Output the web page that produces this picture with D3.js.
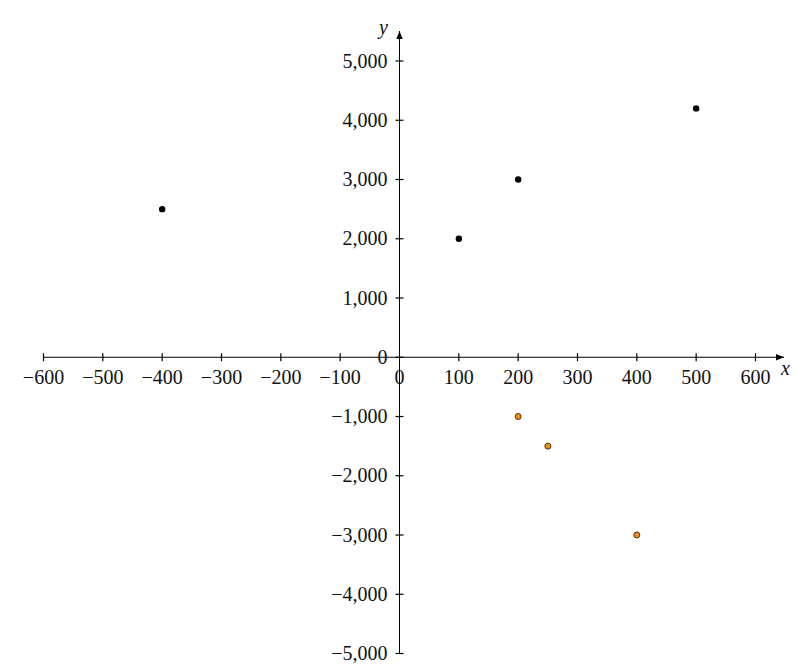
<!DOCTYPE html>
<html>
<head>
<meta charset="utf-8">
<style>
  body { margin: 0; background: #fff; }
  svg text { font-family: "Liberation Serif", "DejaVu Serif", serif; fill: #111; }
</style>
</head>
<body>
<svg id="chart" width="800" height="668"></svg>

<script src="https://d3js.org/d3.v7.min.js"></script>
<script>
    // data
    var positiveX = [-400, 100, 200, 500]
    var positiveY = [2500, 2000, 3000, 4200]
    var negativeX = [200, 250, 400]
    var negativeY = [-1000, -1500, -3000]
    var xTicks = [-600, -500, -400, -300, -200, -100, 0, 100, 200, 300, 400, 500, 600]
    var yTicks = [-5000, -4000, -3000, -2000, -1000, 0, 1000, 2000, 3000, 4000, 5000]

    var svg = d3.select('#chart')

    var x = d3.scaleLinear().domain([-600, 600]).range([43.5, 755.5])
    var y = d3.scaleLinear().domain([-5000, 5000]).range([653.5, 61])

    var minus = function(v) { return v < 0 ? '\u2212' + d3.format(',')(-v) : d3.format(',')(v) }

    var defs = svg.append('defs')
    defs.append('marker')
        .attr('id', 'arrow')
        .attr('viewBox', '0 0 10 10')
        .attr('refX', 10).attr('refY', 5)
        .attr('markerWidth', 8).attr('markerHeight', 8)
        .attr('markerUnits', 'userSpaceOnUse')
        .attr('orient', 'auto')
      .append('path')
        .attr('d', 'M0,1 L10,5 L0,9 Z')
        .attr('fill', '#000')

    // axes lines
    svg.append('line')
        .attr('x1', x(-600)).attr('x2', 784)
        .attr('y1', y(0)).attr('y2', y(0))
        .attr('stroke', '#000').attr('stroke-width', 1)
        .attr('marker-end', 'url(#arrow)')

    svg.append('line')
        .attr('x1', x(0)).attr('x2', x(0))
        .attr('y1', y(-5000)).attr('y2', 31)
        .attr('stroke', '#000').attr('stroke-width', 1)
        .attr('marker-end', 'url(#arrow)')

    // x ticks
    var xt = svg.append('g').selectAll('g')
        .data(xTicks)
        .enter().append('g')
        .attr('transform', function(d) { return 'translate(' + x(d) + ',' + y(0) + ')' })

    xt.filter(function(d) { return d !== 0 }).append('line')
        .attr('y1', -4).attr('y2', 4)
        .attr('stroke', '#000').attr('stroke-width', 1.2)

    xt.append('text')
        .attr('y', 27)
        .attr('text-anchor', 'middle')
        .attr('font-size', 20)
        .text(minus)

    // y ticks
    var yt = svg.append('g').selectAll('g')
        .data(yTicks)
        .enter().append('g')
        .attr('transform', function(d) { return 'translate(' + x(0) + ',' + y(d) + ')' })

    yt.append('line')
        .attr('x1', -4).attr('x2', 4)
        .attr('stroke', '#000').attr('stroke-width', 1.2)

    yt.append('text')
        .attr('x', -12)
        .attr('dy', '0.33em')
        .attr('text-anchor', 'end')
        .attr('font-size', 20)
        .text(minus)

    // axis names
    svg.append('text')
        .attr('x', 781).attr('y', 375)
        .attr('font-size', 20).attr('font-style', 'italic')
        .text('x')

    svg.append('text')
        .attr('x', 379).attr('y', 34)
        .attr('font-size', 20).attr('font-style', 'italic')
        .text('y')

    // points
    svg.append('g').selectAll('circle')
        .data(positiveX)
        .enter().append('circle')
        .attr('cx', function(d) { return x(d) })
        .attr('cy', function(d, i) { return y(positiveY[i]) })
        .attr('r', 3.2)
        .attr('fill', '#000')

    svg.append('g').selectAll('circle')
        .data(negativeX)
        .enter().append('circle')
        .attr('cx', function(d) { return x(d) })
        .attr('cy', function(d, i) { return y(negativeY[i]) })
        .attr('r', 3)
        .attr('fill', '#e8901c')
        .attr('stroke', '#5a3300')
        .attr('stroke-width', 1)
</script>
</body>
</html>
